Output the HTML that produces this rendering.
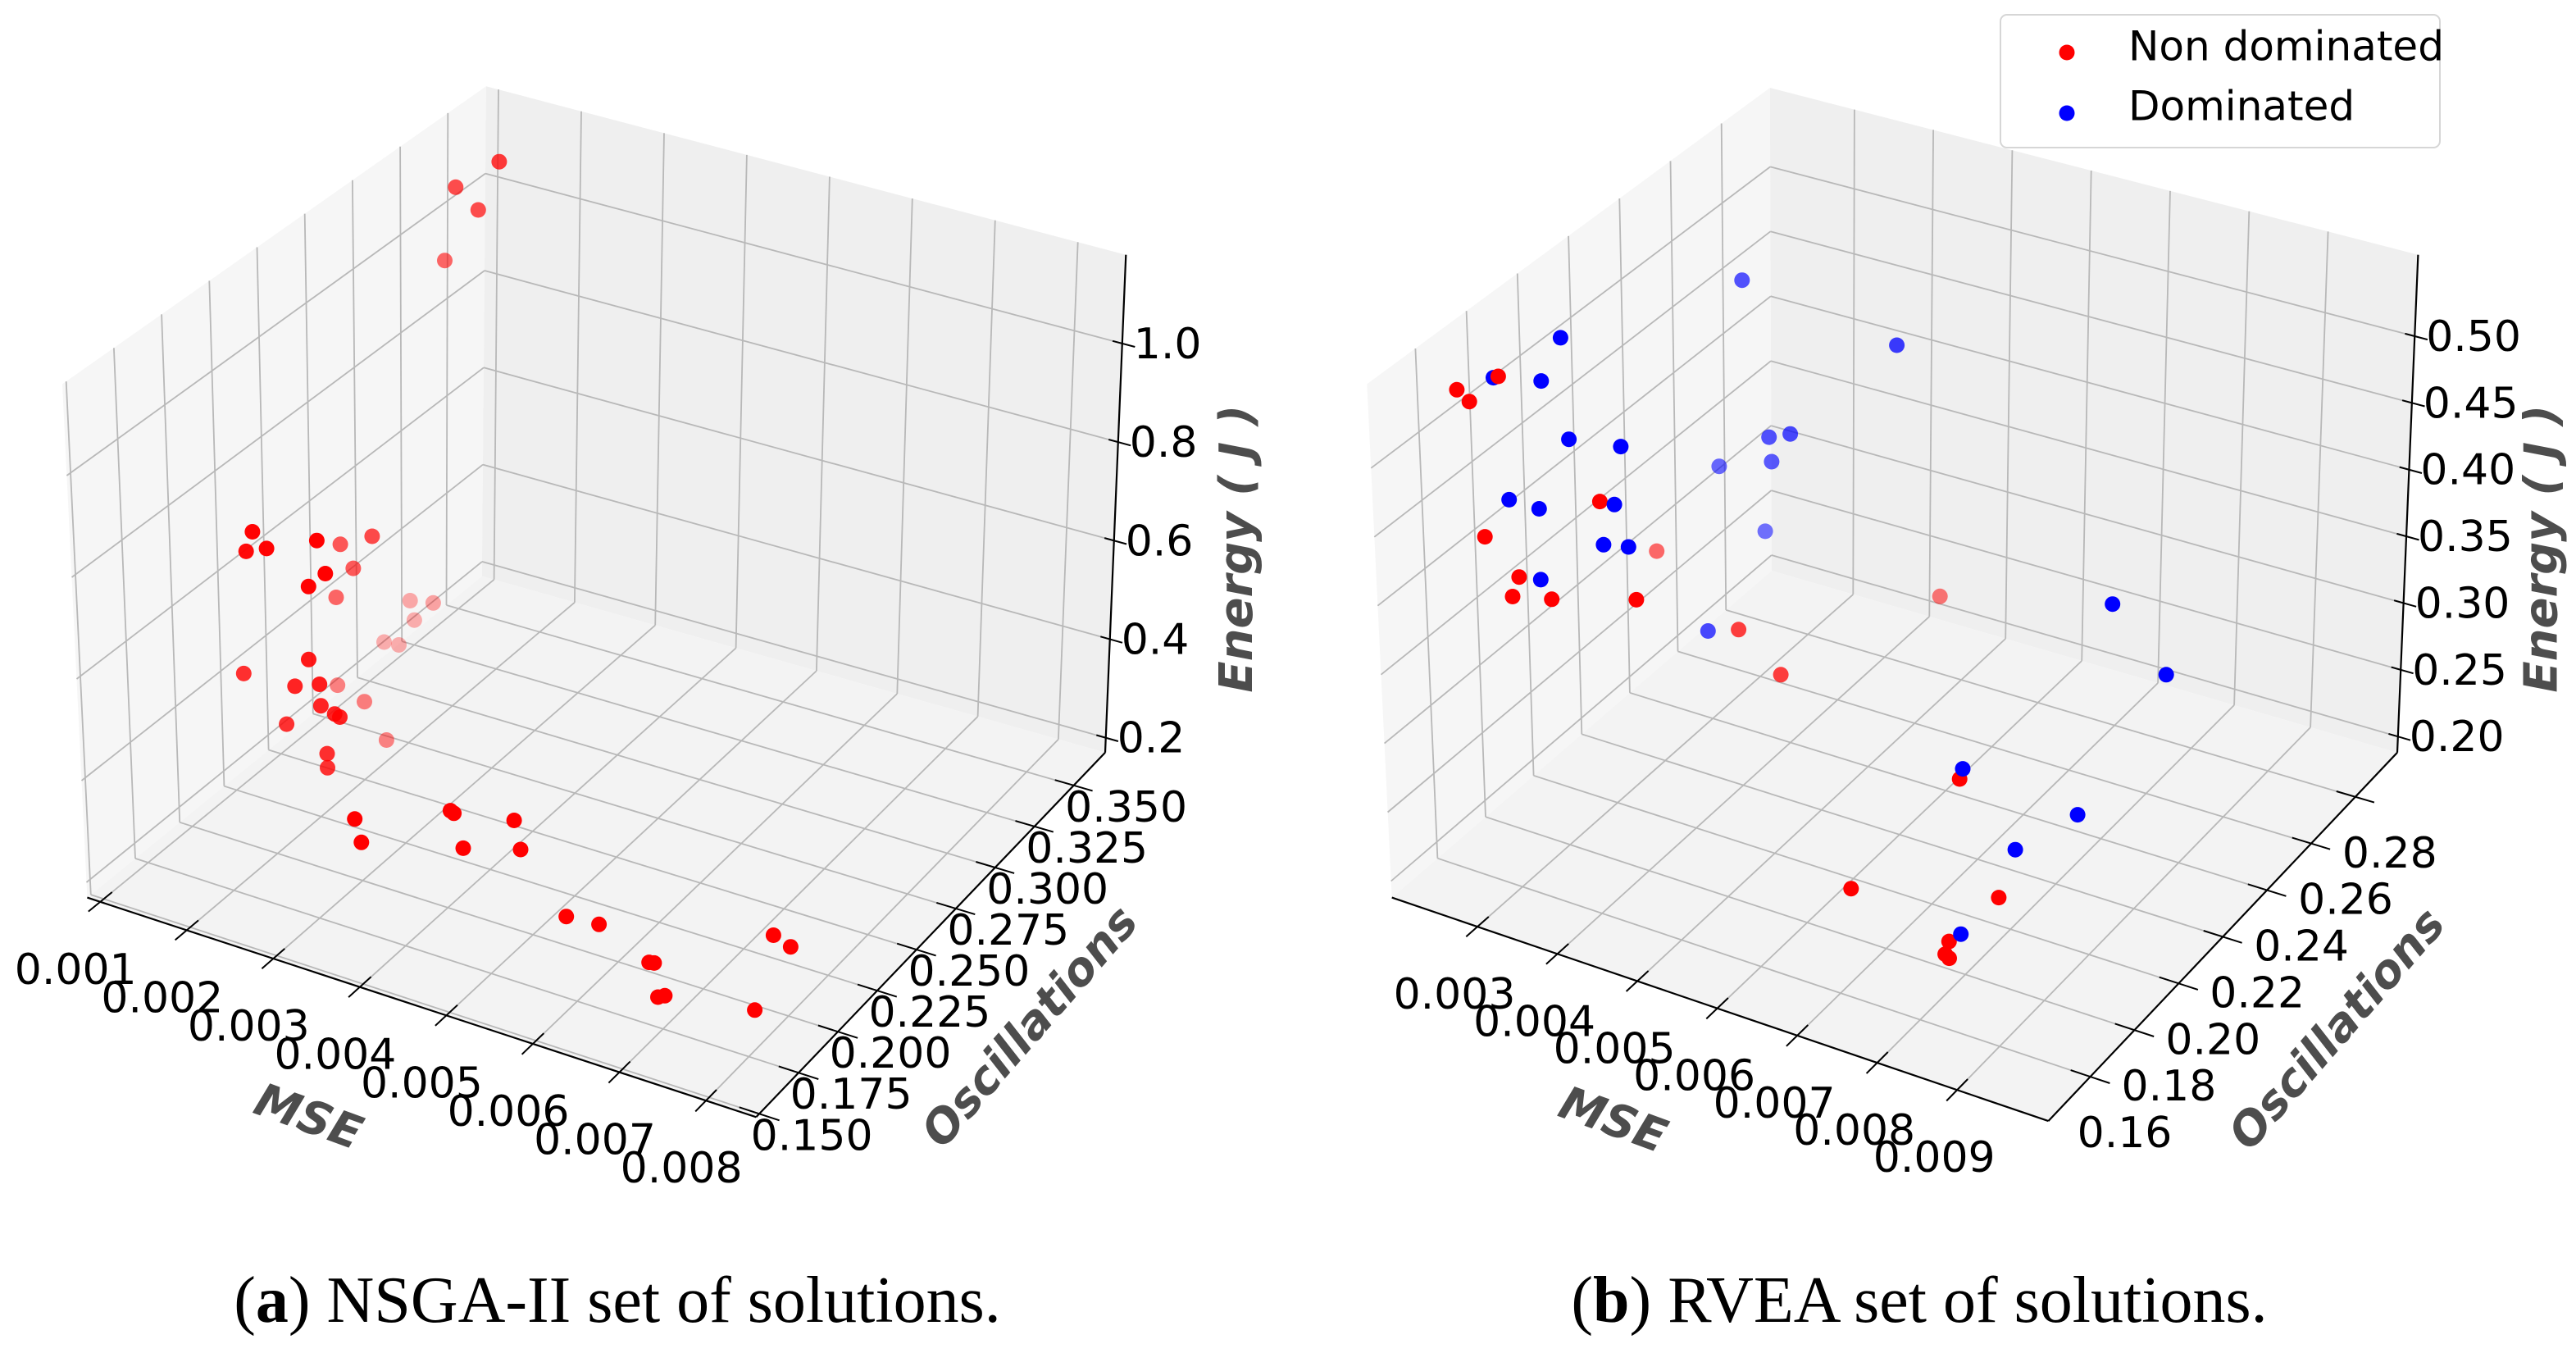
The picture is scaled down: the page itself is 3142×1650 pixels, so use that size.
<!DOCTYPE html>
<html><head><meta charset="utf-8"><style>
html,body{margin:0;padding:0;background:#fff;}
svg{display:block;}
text{font-family:"DejaVu Sans","Liberation Sans",sans-serif;}
</style></head><body>
<svg id="fig" xmlns="http://www.w3.org/2000/svg" width="3142" height="1650" viewBox="0 0 3142 1650">
<rect x="0" y="0" width="3142" height="1650" fill="#fff"/>
<g id="chartA"></g>
<g id="chartB"></g>
<text x="753" y="1612" text-anchor="middle" font-size="80" style="font-family:'Liberation Serif',serif">(<tspan font-weight="bold">a</tspan>) NSGA-II set of solutions.</text>
<text x="2341" y="1612" text-anchor="middle" font-size="80" style="font-family:'Liberation Serif',serif">(<tspan font-weight="bold">b</tspan>) RVEA set of solutions.</text>
</svg>
<script>
// ---------- Chart A data (NSGA-II) ----------
const aMse = [0.00176,0.00124,0.00151,0.00111,
 0.00149,0.00141,0.00165,0.00134,0.00194,0.00183,0.00230,0.00230,0.00211,0.00223,0.00224,0.00240,0.00246,0.00224,0.00233,0.00213,
 0.00132,0.00170,0.00147,0.00126,0.00126,0.00158,0.00184,
 0.00117,0.00145,0.00122,0.00085,0.00103,
 0.00332,0.00339,0.00444,0.00448,0.00458,0.00518,0.00525,0.00577,0.00615,0.00673,0.00679,0.00683,0.00691,0.00796,0.00818,0.00838];
const aOsc = [0.337,0.337,0.337,0.337,
 0.215,0.215,0.215,0.215,0.215,0.215,0.215,0.215,0.215,0.215,0.215,0.215,0.215,0.215,0.215,0.215,
 0.270,0.270,0.270,0.270,0.270,0.270,0.270,
 0.315,0.315,0.315,0.315,0.315,
 0.181,0.181,0.181,0.181,0.181,0.181,0.181,0.181,0.181,0.181,0.181,0.181,0.181,0.181,0.181,0.181];
const aEnergy = [1.158,1.082,1.048,0.926,
 0.739,0.696,0.714,0.449,0.455,0.374,0.340,0.312,0.517,0.474,0.432,0.424,0.421,0.760,0.699,0.663,
 0.550,0.585,0.509,0.440,0.263,0.246,0.182,
 0.298,0.307,0.261,0.198,0.201,
 0.364,0.322,0.440,0.437,0.374,0.460,0.407,0.304,0.309,0.266,0.268,0.204,0.211,0.239,0.395,0.383];
const aMseTicks = [0.001,0.002,0.003,0.004,0.005,0.006,0.007,0.008];
const aMseLabels = ["0.001","0.002","0.003","0.004","0.005","0.006","0.007","0.008"];
const aOscTicks = [0.150,0.175,0.200,0.225,0.250,0.275,0.300,0.325,0.350];
const aOscLabels = ["0.150","0.175","0.200","0.225","0.250","0.275","0.300","0.325","0.350"];
const aEnTicks = [0.2,0.4,0.6,0.8,1.0];
const aEnLabels = ["0.2","0.4","0.6","0.8","1.0"];

// ---------- Chart B data (RVEA) ----------
const bMse = [0.00200,0.00215,0.00252,0.00228,0.00269,0.00260,0.00309,0.00373,0.00415,0.00244,
 0.00246,0.00257,0.00305,0.00337,0.00401,0.00260,0.00297,0.00391,0.00376,0.00407,0.00296,
 0.00275,0.00339,0.00366,0.00342,0.00333,0.00259,0.00455,0.00511,
 0.00358,0.00397,0.00450,0.00823,0.00892,
 0.00819,0.00815,0.00962,0.00884,0.00677,0.00863,0.00815,0.00800,0.00795,0.00800];
const bOsc = [0.173,0.173,0.173,0.173,0.173,0.173,0.173,0.173,0.173,0.236,
 0.173,0.196,0.173,0.173,0.173,0.173,0.173,0.173,0.173,0.173,0.173,
 0.252,0.252,0.252,0.252,0.252,0.267,0.267,0.267,
 0.220,0.220,0.220,0.236,0.236,
 0.173,0.173,0.173,0.173,0.173,0.173,0.173,0.173,0.173,0.173];
const bEnergy = [0.514,0.508,0.533,0.411,0.389,0.373,0.380,0.463,0.399,0.310,
 0.531,0.530,0.539,0.502,0.508,0.444,0.444,0.464,0.432,0.436,0.392,
 0.355,0.388,0.395,0.370,0.316,0.471,0.454,0.274,
 0.295,0.303,0.279,0.371,0.331,
 0.350,0.342,0.343,0.304,0.238,0.266,0.231,0.223,0.213,0.211];
const bDominated = [0,0,0,0,0,0,0,0,0,0,
 1,1,1,1,1,1,1,1,1,1,1,
 1,1,1,1,1,1,1,0,
 1,0,0,1,1,
 1,0,1,1,0,0,1,0,0,0];
const bMseTicks = [0.003,0.004,0.005,0.006,0.007,0.008,0.009];
const bMseLabels = ["0.003","0.004","0.005","0.006","0.007","0.008","0.009"];
const bOscTicks = [0.16,0.18,0.20,0.22,0.24,0.26,0.28];
const bOscLabels = ["0.16","0.18","0.20","0.22","0.24","0.26","0.28"];
const bEnTicks = [0.20,0.25,0.30,0.35,0.40,0.45,0.50];
const bEnLabels = ["0.20","0.25","0.30","0.35","0.40","0.45","0.50"];

const NS = "http://www.w3.org/2000/svg";
function mk(parent, tag, attrs){
  const el = document.createElementNS(NS, tag);
  for (const k in attrs) el.setAttribute(k, attrs[k]);
  parent.appendChild(el);
  return el;
}

function drawChart(g, cfg){
  const C = cfg.corners;
  function S(x,y){ return [cfg.ox + x*1.0135, y*0.956]; }
  function P(u,v,w){
    let x=0,y=0;
    for (let a=0;a<2;a++) for (let b=0;b<2;b++) for (let c=0;c<2;c++){
      const wt=(a?u:1-u)*(b?v:1-v)*(c?w:1-w);
      const p=C[''+a+b+c]; x+=wt*p[0]; y+=wt*p[1];
    }
    return S(x,y);
  }
  const U = m => (m-cfg.xmin)/(cfg.xmax-cfg.xmin);
  const V = o => (o-cfg.ymin)/(cfg.ymax-cfg.ymin);
  const W = e => (e-cfg.zmin)/(cfg.zmax-cfg.zmin);
  const poly = pts => pts.map(p=>p[0].toFixed(1)+','+p[1].toFixed(1)).join(' ');
  const line = (p,q,stroke,sw) => ({x1:p[0].toFixed(1),y1:p[1].toFixed(1),x2:q[0].toFixed(1),y2:q[1].toFixed(1),stroke:stroke,'stroke-width':sw});

  let el = mk(g,'polygon',{points:poly([P(0,0,0),P(0,1,0),P(0,1,1),P(0,0,1)]),fill:'#f6f6f6'});
  
  
  el = mk(g,'polygon',{points:poly([P(0,1,0),P(1,1,0),P(1,1,1),P(0,1,1)]),fill:'#efefef'});
  
  
  el = mk(g,'polygon',{points:poly([P(0,0,0),P(1,0,0),P(1,1,0),P(0,1,0)]),fill:'#f3f3f3'});
  
  

  const gc='#b8b8b8', gw=1.8;
  cfg.mseTicks.forEach(t=>{
    const u=U(t);
    let l=mk(g,'line',line(P(u,0,0),P(u,1,0),gc,gw));
    
    
    l=mk(g,'line',line(P(u,1,0),P(u,1,1),gc,gw));
    
    
  });
  cfg.oscTicks.forEach(t=>{
    const v=V(t);
    let l=mk(g,'line',line(P(0,v,0),P(1,v,0),gc,gw));
    
    
    l=mk(g,'line',line(P(0,v,0),P(0,v,1),gc,gw));
    
    
  });
  cfg.enTicks.forEach(t=>{
    const w=W(t);
    let l=mk(g,'line',line(P(0,0,w),P(0,1,w),gc,gw));
    
    
    l=mk(g,'line',line(P(0,1,w),P(1,1,w),gc,gw));
    
    
  });

  el=mk(g,'line',line(P(0,0,0),P(1,0,0),'#000',2.2));
  
  
  el=mk(g,'line',line(P(1,0,0),P(1,1,0),'#000',2.2));
  
  
  el=mk(g,'line',line(P(1,1,0),P(1,1,1),'#000',2.2));
  
  

  cfg.mseTicks.forEach((t,i)=>{
    const u=U(t);
    let l=mk(g,'line',line(P(u,0.03,0),P(u,-0.03,0),'#000',2));
    
    
    const p=P(u,0,0);
    const tx=mk(g,'text',{x:(p[0]+cfg.mseOff[0]).toFixed(1),y:(p[1]+cfg.mseOff[1]).toFixed(1),'text-anchor':'middle','dominant-baseline':'middle','font-size':52,fill:'#000'});
    tx.textContent=cfg.mseLabels[i];
    
    
  });
  cfg.oscTicks.forEach((t,i)=>{
    const v=V(t);
    let l=mk(g,'line',line(P(0.97,v,0),P(1.03,v,0),'#000',2));
    
    
    const p=P(1,v,0);
    const tx=mk(g,'text',{x:(p[0]+cfg.oscOff[0]).toFixed(1),y:(p[1]+cfg.oscOff[1]).toFixed(1),'text-anchor':'middle','dominant-baseline':'middle','font-size':52,fill:'#000'});
    tx.textContent=cfg.oscLabels[i];
    
    
  });
  cfg.enTicks.forEach((t,i)=>{
    const w=W(t);
    let l=mk(g,'line',line(P(0.985,1,w),P(1.02,1,w),'#000',2));
    
    
    const p=P(1,1,w);
    const tx=mk(g,'text',{x:(p[0]+14).toFixed(1),y:(p[1]+4).toFixed(1),'text-anchor':'start','dominant-baseline':'middle','font-size':52,fill:'#000'});
    tx.textContent=cfg.enLabels[i];
    
    
  });

  function title(txt,pos,rot){
    const p=S(pos[0],pos[1]);
    const t=mk(g,'text',{x:p[0].toFixed(1),y:p[1].toFixed(1),'text-anchor':'middle','dominant-baseline':'middle','font-size':56,'font-weight':'bold','font-style':'italic',fill:'#4d4d4d',transform:`rotate(${rot} ${p[0].toFixed(1)} ${p[1].toFixed(1)})`});
    t.textContent=txt;
    return t;
  }
  el=title('MSE',cfg.mseTitle,20);
  
  
  el=title('Oscillations',cfg.oscTitle,-49);
  
  
  el=title('Energy ( J )',cfg.enTitle,-90);
  
  

  const pts=cfg.mse.map((m,i)=>{
    const u=U(m),v=V(cfg.osc[i]),w=W(cfg.en[i]);
    return {u,v,w,i,n:0.433*u-0.75*v+0.5*w};
  });
  pts.sort((a,b)=>a.n-b.n);
  pts.forEach(pt=>{
    const p=P(pt.u,pt.v,pt.w);
    let a=0.3+(pt.n+0.5)/0.6*0.7; a=Math.max(0.3,Math.min(1,a));
    const col=(cfg.dom && cfg.dom[pt.i])?'#0000ff':'#ff0000';
    const c=mk(g,'circle',{cx:p[0].toFixed(1),cy:p[1].toFixed(1),r:9.5,fill:col,'fill-opacity':a.toFixed(2)});
    
    
  });
  return S;
}

drawChart(document.getElementById('chartA'),{
  ox:0,
  corners:{'000':[105,1145],'100':[910,1425],'010':[580,735],'110':[1330,960],'001':[75,490],'101':[905,750],'011':[585,110],'111':[1355,325]},
  xmin:0.00085,xmax:0.00858,ymin:0.148,ymax:0.370,zmin:0.17,zmax:1.18,
  mse:aMse,osc:aOsc,en:aEnergy,
  mseTicks:aMseTicks,mseLabels:aMseLabels,oscTicks:aOscTicks,oscLabels:aOscLabels,enTicks:aEnTicks,enLabels:aEnLabels,
  mseOff:[-30,86],oscOff:[64,30],
  mseTitle:[370,1428],oscTitle:[1242,1312],enTitle:[1492,700]
});
drawChart(document.getElementById('chartB'),{
  ox:1571,
  corners:{'000':[125,1145],'100':[915,1430],'010':[582,728],'110':[1335,960],'001':[95,490],'101':[910,750],'011':[580,112],'111':[1360,325]},
  xmin:0.00193,xmax:0.01014,ymin:0.141,ymax:0.299,zmin:0.188,zmax:0.561,
  mse:bMse,osc:bOsc,en:bEnergy,dom:bDominated,
  mseTicks:bMseTicks,mseLabels:bMseLabels,oscTicks:bOscTicks,oscLabels:bOscLabels,enTicks:bEnTicks,enLabels:bEnLabels,
  mseOff:[-28,86],oscOff:[42,72],
  mseTitle:[390,1432],oscTitle:[1265,1315],enTitle:[1512,700]
});

const gB=document.getElementById('chartB');
const lg=mk(gB,'g',{});


let lb=mk(lg,'rect',{x:2440,y:18,width:536,height:162,rx:8,fill:'#fff',stroke:'#d6d6d6','stroke-width':2});


let d1=mk(lg,'circle',{cx:2521,cy:64,r:9.5,fill:'#ff0000'});


let t1=mk(lg,'text',{x:2596,y:60,'dominant-baseline':'middle','font-size':50,fill:'#000'});
t1.textContent='Non dominated';


let d2=mk(lg,'circle',{cx:2521,cy:138,r:9.5,fill:'#0000ff'});


let t2=mk(lg,'text',{x:2596,y:133,'dominant-baseline':'middle','font-size':50,fill:'#000'});
t2.textContent='Dominated';


</script>
</body></html>
